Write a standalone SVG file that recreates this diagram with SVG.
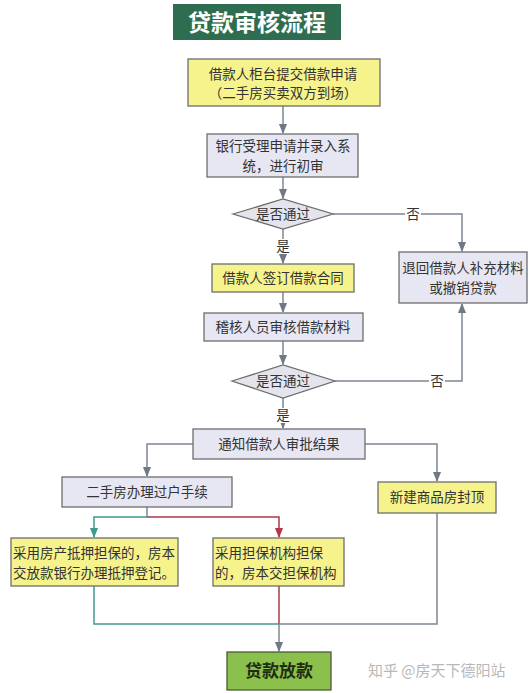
<svg xmlns="http://www.w3.org/2000/svg" width="530" height="693" viewBox="0 0 530 693">
<style>
text{font-family:"Noto Sans CJK SC","Noto Sans",sans-serif;fill:#333;font-size:13.5px}
.c{text-anchor:middle}
.y{fill:#f6f28c;stroke:#6e6e6e;stroke-width:1.3}
.p{fill:#e7e7f3;stroke:#6e6e6e;stroke-width:1.3}
.d{fill:#e4e4ec;stroke:#6e6e6e;stroke-width:1.3}
.l{fill:none;stroke:#7d8792;stroke-width:1.5}
.t{fill:none;stroke:#3f9a8c;stroke-width:1.5}
.r{fill:none;stroke:#b03848;stroke-width:1.5}
.bg{fill:#fff}
</style>
<defs>
<marker id="a" viewBox="0 0 10 10" refX="9" refY="5" markerWidth="7" markerHeight="7" orient="auto"><path d="M0,1L10,5L0,9z" fill="#6f7985"/></marker>
<marker id="at" viewBox="0 0 10 10" refX="9" refY="5" markerWidth="7" markerHeight="7" orient="auto"><path d="M0,1L10,5L0,9z" fill="#3f9a8c"/></marker>
<marker id="ar" viewBox="0 0 10 10" refX="9" refY="5" markerWidth="7" markerHeight="7" orient="auto"><path d="M0,1L10,5L0,9z" fill="#b03848"/></marker>
</defs>
<rect width="530" height="693" fill="#fff"/>
<g id="title">
<rect x="173" y="4" width="168" height="36" fill="#2f6d50"/>
<text x="257" y="30.5" class="c" style="fill:#fff;font-size:23px;font-weight:bold">贷款审核流程</text>
</g>
<g id="connectors">
<path class="l" d="M283,106V133" marker-end="url(#a)"/>
<path class="l" d="M283,177V198" marker-end="url(#a)"/>
<path class="l" d="M283,229V263" marker-end="url(#a)"/>
<path class="l" d="M333,214H462V251" marker-end="url(#a)"/>
<path class="l" d="M283,292V312" marker-end="url(#a)"/>
<path class="l" d="M283,341V364" marker-end="url(#a)"/>
<path class="l" d="M335,381H462V304" marker-end="url(#a)"/>
<path class="l" d="M283,398V428" marker-end="url(#a)"/>
<path class="l" d="M193,444H147V476" marker-end="url(#a)"/>
<path class="l" d="M365,444H437V481" marker-end="url(#a)"/>
<path class="l" d="M147,507V517"/>
<path class="t" d="M147,517H94V537" marker-end="url(#at)"/>
<path class="r" d="M147,517H279V537" marker-end="url(#ar)"/>
<path class="t" d="M94,586V624H279"/>
<path class="r" d="M279,586V624"/>
<path class="l" d="M437,513V624H279"/>
<path class="l" d="M279,624V651" marker-end="url(#a)"/>
<rect class="bg" x="405" y="206" width="16" height="16"/>
<text x="413" y="219" class="c">否</text>
<rect class="bg" x="276" y="239" width="14" height="15"/>
<text x="283" y="251" class="c">是</text>
<rect class="bg" x="429" y="373" width="16" height="16"/>
<text x="437" y="386" class="c">否</text>
<rect class="bg" x="276" y="408" width="14" height="15"/>
<text x="283" y="420" class="c">是</text>
</g>
<g id="n1">
<rect class="y" x="188" y="59" width="192" height="47"/>
<text x="283" y="79" class="c">借款人柜台提交借款申请</text>
<text x="283" y="98" class="c">（二手房买卖双方到场）</text>
</g>
<g id="n2">
<rect class="p" x="207" y="134" width="151" height="43"/>
<text x="283" y="151" class="c">银行受理申请并录入系</text>
<text x="283" y="171" class="c">统，进行初审</text>
</g>
<g id="n3">
<rect class="y" x="212" y="264" width="142" height="28"/>
<text x="283" y="283" class="c">借款人签订借款合同</text>
</g>
<g id="d1">
<polygon class="d" points="233,214 283,199 333,214 283,229"/>
<text x="283" y="219" class="c">是否通过</text>
</g>
<g id="n4">
<rect class="p" x="399" y="252" width="128" height="51"/>
<text x="463" y="273" class="c">退回借款人补充材料</text>
<text x="463" y="293" class="c">或撤销贷款</text>
</g>
<g id="n5">
<rect class="p" x="204" y="313" width="159" height="28"/>
<text x="283" y="332" class="c">稽核人员审核借款材料</text>
</g>
<g id="d2">
<polygon class="d" points="232,381 283,365 335,381 283,398"/>
<text x="283" y="386" class="c">是否通过</text>
</g>
<g id="n6">
<rect class="p" x="193" y="429" width="172" height="30"/>
<text x="279" y="449" class="c">通知借款人审批结果</text>
</g>
<g id="n7">
<rect class="p" x="62" y="477" width="170" height="30"/>
<text x="147" y="497" class="c">二手房办理过户手续</text>
</g>
<g id="n8">
<rect class="y" x="378" y="482" width="118" height="31"/>
<text x="437" y="502" class="c">新建商品房封顶</text>
</g>
<g id="n9">
<rect class="y" x="11" y="538" width="167" height="48"/>
<text x="13" y="558">采用房产抵押担保的，房本</text>
<text x="13" y="578">交放款银行办理抵押登记。</text>
</g>
<g id="n10">
<rect class="y" x="213" y="538" width="131" height="48"/>
<text x="215" y="558">采用担保机构担保</text>
<text x="215" y="578">的，房本交担保机构</text>
</g>
<g id="n11">
<rect x="227" y="652" width="104" height="38" fill="#8cc04c" stroke="#4a5a3a" stroke-width="1.3"/>
<text x="279" y="677" class="c" style="font-size:17px;font-weight:bold;fill:#1f2e12">贷款放款</text>
</g>
<text x="368" y="676" style="font-size:15px;fill:#b8b8b8">知乎 @房天下德阳站</text>
</svg>
